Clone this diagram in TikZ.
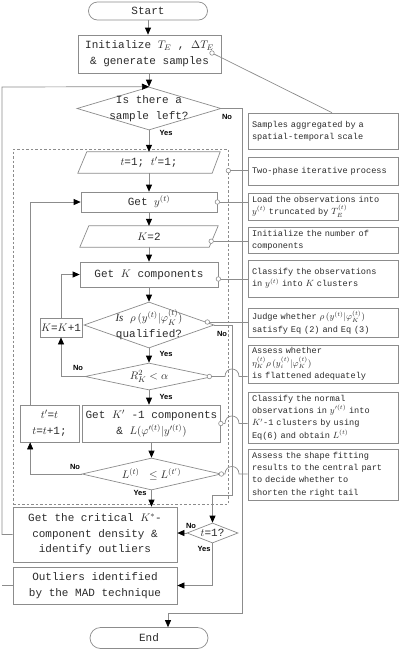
\documentclass[tikz,border=0pt]{standalone}
\usepackage{fontspec}
\setmainfont{Liberation Serif}
\setmonofont{Liberation Mono}
\newfontfamily\lblfont{Liberation Sans}
\usetikzlibrary{shapes.geometric,arrows.meta,calc}
\definecolor{lncol}{HTML}{8C8C8C}
\definecolor{txt}{HTML}{2B2B2B}
\begin{document}
\begin{tikzpicture}[x=1pt,y=-1pt,
  ln/.style={draw=lncol, line width=0.7pt},
  arr/.style={ln, -{Triangle[length=7pt,width=6pt,color=black]}},
  mainfont/.style={font=\ttfamily\fontsize{11}{16}\selectfont, text=txt},
  box/.style={ln, rectangle, inner sep=1pt, align=center, mainfont},
  term/.style={box, rounded corners=9pt},
  dia/.style={ln, diamond, inner sep=0pt},
  dtext/.style={mainfont, align=center, inner sep=0pt},
  pbox/.style={mainfont, align=center, inner sep=0pt},
  note/.style={ln, rectangle, minimum width=150pt, text width=142pt, inner xsep=4pt, inner ysep=1pt, align=left, font=\ttfamily\fontsize{8.6}{12.4}\selectfont, text=txt},
  yn/.style={font=\lblfont\bfseries\fontsize{7.5}{9}\selectfont, text=black, inner sep=0pt},
  odot/.style={circle, draw=lncol, fill=white, line width=0.6pt, minimum size=4.5pt, inner sep=0pt},
  grpbox/.style={draw=lncol, line width=0.7pt, dash pattern=on 2.5pt off 2pt, rectangle, inner sep=0pt},
]
\useasboundingbox[fill=white] (0,0) rectangle (400,651);

% group
\node[grpbox, minimum width=215pt, minimum height=355pt] (grp) at (120.5,326.5) {};

% main flow
\node[term, minimum width=119pt, minimum height=18pt] (start) at (148,11) {Start};
\node[box, minimum width=143pt, minimum height=38pt] (init) at (149.5,54) {Initialize $T_E$ , $\Delta T_E$\\\& generate samples};
\node[dia, minimum width=144pt, minimum height=43pt] (d1) at (149,108.5) {};
\node[dtext] (d1t) at (d1) {Is there a\\sample left?};

\node[pbox, minimum width=142pt, minimum height=21pt] (p1) at (149,162.5) {$t$=1; $t'$=1;};
\draw[ln] (p1.south west) -- ($(p1.north west)+(9,0)$) -- (p1.north east) -- ($(p1.south east)+(-8,0)$) -- cycle;

\node[box, minimum width=136pt, minimum height=20pt] (gety) at (149,202) {Get $y^{(t)}$};

\node[pbox, minimum width=138pt, minimum height=21pt] (k2) at (149,236.5) {$K$=2};
\draw[ln] (k2.south west) -- ($(k2.north west)+(9,0)$) -- (k2.north east) -- ($(k2.south east)+(-9,0)$) -- cycle;

\node[box, minimum width=138pt, minimum height=25pt] (getk) at (149,274.5) {Get $K$ components};

\node[dia, minimum width=130pt, minimum height=46pt] (d2) at (149,325) {};
\node[dtext] (d2t) at (d2) {$\mathit{Is}\ \rho\,(y^{(t)}|\varphi_K^{(t)})$\\qualified?};

\node[box, minimum width=42pt, minimum height=19pt] (kk) at (61,327.5) {$K$=$K$+1};

\node[dia, minimum width=128pt, minimum height=27pt] (d3) at (149,376.5) {};
\node[dtext] (d3t) at (d3) {$R_K^{2}<\alpha$};

\node[box, minimum width=138pt, minimum height=37pt] (getk1) at (151.5,423.5) {Get $K'$ -1 components\\\& $L(\varphi^{\prime(t)}|y^{\prime(t)})$};
\node[box, minimum width=59pt, minimum height=37pt] (tt) at (49.5,423.5) {$t'$=$t$\\$t$=$t$+1;};

\node[dia, minimum width=139pt, minimum height=32pt] (d4) at (151.5,474) {};
\node[dtext] (d4t) at (d4) {$L^{(t)}\ \leq L^{(t')}$};

\node[box, minimum width=164pt, minimum height=55pt, font=\ttfamily\fontsize{11}{15.5}\selectfont] (crit) at (95,534.5) {Get the critical $K^{*}$-\\component density \&\\identify outliers};
\node[dia, minimum width=51pt, minimum height=20pt] (t1q) at (212.5,533) {};
\node[dtext] (t1qt) at (t1q) {$t$=1?};
\node[box, minimum width=164pt, minimum height=37pt] (outl) at (95,585.5) {Outliers identified\\by the MAD technique};
\node[term, minimum width=118pt, minimum height=21pt, rounded corners=10.5pt] (end) at (149,638) {End};

% notes
\node[note, minimum height=36pt] (a1) at (323,131) {Samples aggregated by a\\spatial-temporal scale};
\node[note, minimum height=28pt] (a2) at (323,171) {Two-phase iterative process};
\node[note, minimum height=27pt] (a3) at (323,206.5) {Load the observations into\\$y^{(t)}$ truncated by $T_E^{(t)}$};
\node[note, minimum height=26pt] (a4) at (323,240) {Initialize the number of\\components};
\node[note, minimum height=37pt] (a5) at (323,278.5) {Classify the observations\\in $y^{(t)}$ into $K$ clusters};
\node[note, minimum height=29pt] (a6) at (323,322.5) {Judge whether $\rho\,(y^{(t)}|\varphi_K^{(t)})$\\satisfy Eq (2) and Eq (3)};
\node[note, minimum height=38pt] (a7) at (323,364) {Assess whether\\$\eta_K^{(t)}\rho\,(y_i^{(t)}|\varphi_K^{(t)})$\\is flattened  adequately};
\node[note, minimum height=51pt] (a8) at (323,417.5) {Classify the normal\\observations in $y^{\prime(t)}$ into\\$K'$-1 clusters by using\\Eq(6) and obtain $L^{(t)}$};
\node[note, minimum height=51pt] (a9) at (323,474.5) {Assess the shape fitting\\results to the central part\\to decide whether to\\shorten the right tail};

% helper coordinates
\coordinate (nb1) at (242,613);
\coordinate (nb2) at (168,613);
\coordinate (nc1) at (232,495);
\coordinate (lft) at (2,87);
\coordinate (ttb) at ($(tt.south west)+(10.5,0)$);
\coordinate (ttt) at ($(tt.north west)+(10.5,0)$);

% connectors
\draw[arr] (start.south) -- (start.south |- init.north);
\draw[arr] (init.south -| d1.north) -- (d1.north);
\draw[arr] (d1.south) -- (d1.south |- p1.north);
\draw[arr] (d1.east) -| (nb1) -- (nb2) -- (nb2 |- end.north);
\draw[arr] (p1.south) -- (p1.south |- gety.north);
\draw[arr] (gety.south) -- (gety.south |- k2.north);
\draw[arr] (k2.south) -- (k2.south |- getk.north);
\draw[arr] (getk.south) -- (getk.south |- d2.north);
\draw[arr] (d2.south) -- (d2.south |- d3.north);
\draw[arr] (d2.east) -| (nc1) -| (t1q.north);
\draw[arr] (d3.west) -| (kk.south);
\draw[arr] (kk.north) |- (getk.west);
\draw[arr] (d3.south) -- (d3.south |- getk1.north);
\draw[arr] (getk1.south) -- (getk1.south |- d4.north);
\draw[arr] (d4.west) -| (ttb);
\draw[arr] (ttt) |- (gety.west);
\draw[arr] (d4.south) -- (d4.south |- crit.north);
\draw[arr] (t1q.west) -- (t1q.west -| crit.east);
\draw[arr] (t1q.south) |- (outl.east);
\draw[arr] (crit.west) -| (lft) -- (d1.north);
\draw[ln] (outl.west) -- (outl.west -| lft);

% note connectors
\node[odot] (c1) at (212,53) {};
\draw[ln] (c1) -- ($(a1.north)+(9,0)$);
\node[odot] (c2) at ($(grp.north east)+(0,22)$) {};
\draw[ln] (c2) -- (c2 -| a2.west);
\node[odot] (c3) at (gety.east) {};
\draw[ln] (c3) -- (c3 -| a3.west);
\node[odot] (c4) at ($(k2.south east)+(-7,-6)$) {};
\draw[ln] (c4) -- (c4 -| a4.west);
\node[odot] (c5) at ($(getk.east)+(0,4.5)$) {};
\draw[ln] (c5) -- (c5 -| a5.west);
\node[odot] (c6) at ($(d2.east)+(-7,-3)$) {};
\draw[ln] (c6) -- (c6 -| a6.west);
\node[odot] (c7) at ($(d3.east)+(-4,0)$) {};
\draw[ln] (c7) -- ($(c7 -| nc1)+(-7,0)$) .. controls +(0,-10) and +(0,-10) .. ($(c7 -| nc1)+(7,0)$) -- (c7 -| a7.west);
\node[odot] (c8) at (getk1.east) {};
\draw[ln] (c8) -- ($(c8 -| nc1)+(-7,0)$) .. controls +(0,-10) and +(0,-10) .. ($(c8 -| nc1)+(7,0)$) -- (c8 -| a8.west);
\node[odot] (c9) at (d4.east) {};
\draw[ln] (c9) -- ($(c9 -| nc1)+(-7,0)$) .. controls +(0,-10) and +(0,-10) .. ($(c9 -| nc1)+(7,0)$) -- (c9 -| a9.west);

% yes/no labels
\node[yn] (l1) at (227,117) {No};
\node[yn] (l2) at (166,133) {Yes};
\node[yn] (l3) at (222,334) {No};
\node[yn] (l4) at (166,354) {Yes};
\node[yn] (l5) at (78,368) {No};
\node[yn] (l6) at (166,397) {Yes};
\node[yn] (l7) at (75,467) {No};
\node[yn] (l8) at (140,493) {Yes};
\node[yn] (l9) at (191,526) {No};
\node[yn] (l10) at (204,549) {Yes};
\end{tikzpicture}
\end{document}
